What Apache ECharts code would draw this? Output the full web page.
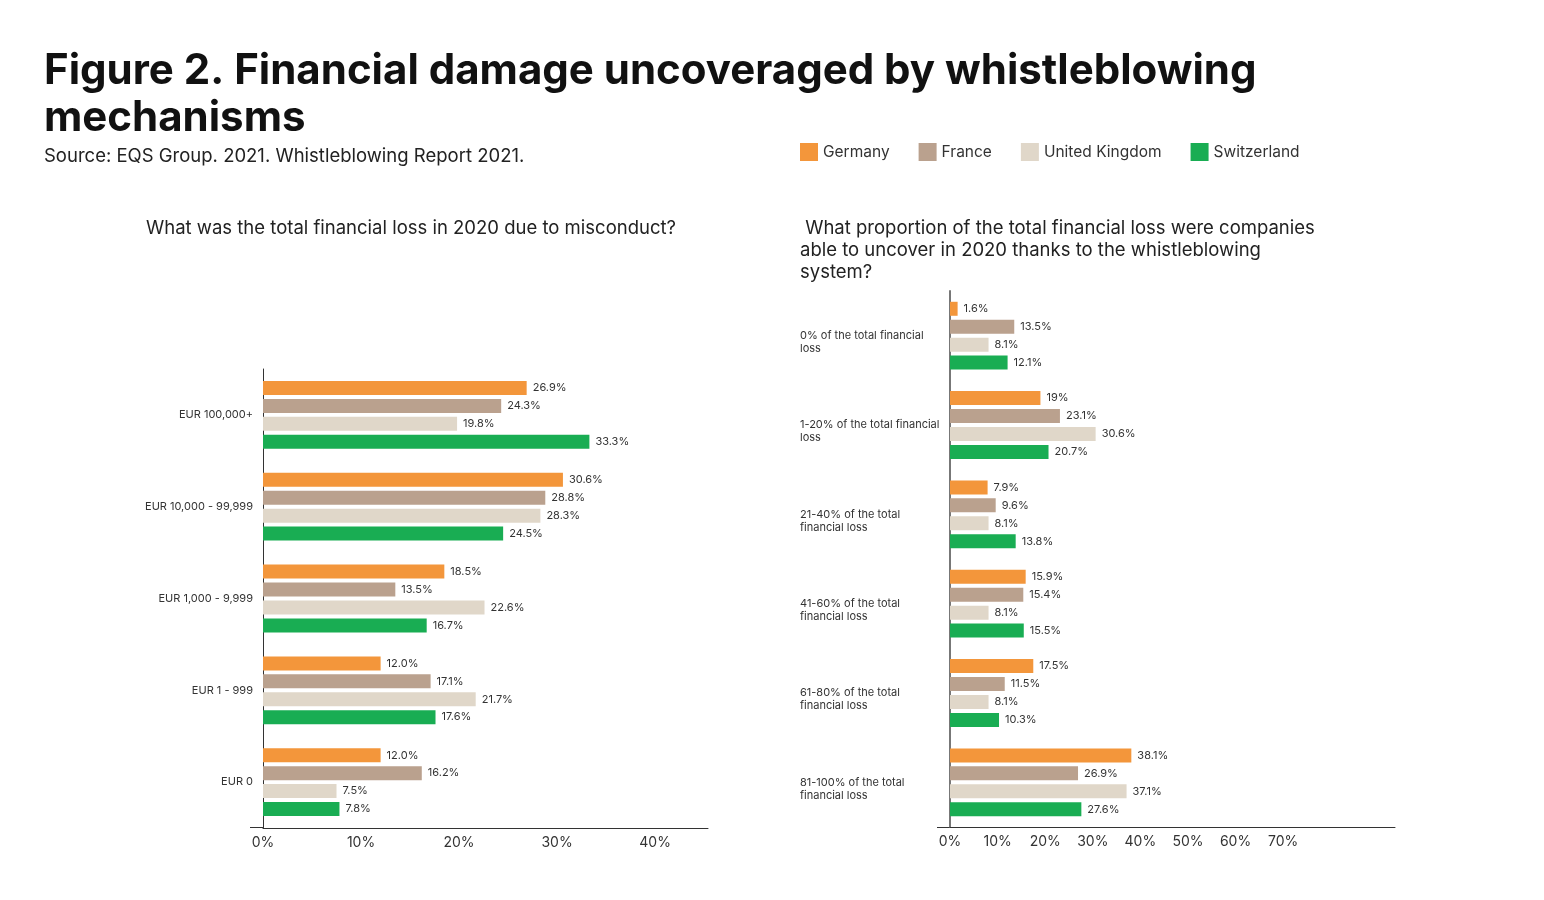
<!DOCTYPE html>
<html>
<head>
<meta charset="utf-8">
<title>Figure 2</title>
<script src="https://cdn.jsdelivr.net/npm/echarts@6/dist/echarts.min.js"></script>
<style>
  html, body { margin: 0; padding: 0; background: #fff; }
  #chart { width: 1544px; height: 900px; }
</style>
</head>
<body>
<div id="chart"></div>
<script>
// 国家（图例）
var countries = ['Germany', 'France', 'United Kingdom', 'Switzerland'];
var colors = ['#F3963B', '#BAA18E', '#E0D7C9', '#19AD53'];

// 左图：2020 年因不当行为造成的损失
var lossCats = ['EUR 100,000+', 'EUR 10,000 - 99,999', 'EUR 1,000 - 9,999', 'EUR 1 - 999', 'EUR 0'];
var lossGermany = [26.9, 30.6, 18.5, 12.0, 12.0];
var lossFrance = [24.3, 28.8, 13.5, 17.1, 16.2];
var lossUK = [19.8, 28.3, 22.6, 21.7, 7.5];
var lossSwitzerland = [33.3, 24.5, 16.7, 17.6, 7.8];

// 右图：通过举报系统发现的损失比例
var shareCats = [
  '0% of the total financial\nloss',
  '1-20% of the total financial\nloss',
  '21-40% of the total\nfinancial loss',
  '41-60% of the total\nfinancial loss',
  '61-80% of the total\nfinancial loss',
  '81-100% of the total\nfinancial loss'
];
var shareGermany = [1.6, 19, 7.9, 15.9, 17.5, 38.1];
var shareFrance = [13.5, 23.1, 9.6, 15.4, 11.5, 26.9];
var shareUK = [8.1, 30.6, 8.1, 8.1, 8.1, 37.1];
var shareSwitzerland = [12.1, 20.7, 13.8, 15.5, 10.3, 27.6];

var font = 'Inter, "Noto Sans", sans-serif';

function makeSeries(name, data, idx, gridIdx, fixed) {
  return {
    name: name,
    type: 'bar',
    xAxisIndex: gridIdx,
    yAxisIndex: gridIdx,
    data: data,
    barWidth: 14,
    barGap: '28%',
    itemStyle: { color: colors[idx] },
    label: {
      show: true,
      position: 'right',
      distance: 6,
      fontFamily: font,
      fontSize: 11,
      color: '#333',
      formatter: function (p) {
        return (fixed ? p.value.toFixed(1) : p.value) + '%';
      }
    }
  };
}

var series = [];
[lossGermany, lossFrance, lossUK, lossSwitzerland].forEach(function (d, i) {
  series.push(makeSeries(countries[i], d, i, 0, true));
});
[shareGermany, shareFrance, shareUK, shareSwitzerland].forEach(function (d, i) {
  series.push(makeSeries(countries[i], d, i, 1, false));
});

var chart = echarts.init(document.getElementById('chart'));
var option = {
  animation: false,
  textStyle: { fontFamily: font },
  title: [
    {
      text: 'Figure 2. Financial damage uncoveraged by whistleblowing\nmechanisms',
      left: 44, top: 48, padding: 0,
      textStyle: { fontFamily: font, fontWeight: 'bold', fontSize: 42, lineHeight: 47, color: '#111' }
    },
    {
      text: 'Source: EQS Group. 2021. Whistleblowing Report 2021.',
      left: 44, top: 147, padding: 0,
      textStyle: { fontFamily: font, fontWeight: 'normal', fontSize: 18.5, color: '#222' }
    },
    {
      text: 'What was the total financial loss in 2020 due to misconduct?',
      left: 146, top: 219, padding: 0,
      textStyle: { fontFamily: font, fontWeight: 'normal', fontSize: 18.5, color: '#222' }
    },
    {
      text: ' What proportion of the total financial loss were companies\nable to uncover in 2020 thanks to the whistleblowing\nsystem?',
      left: 800, top: 217, padding: 0,
      textStyle: { fontFamily: font, fontWeight: 'normal', fontSize: 18.5, lineHeight: 22, color: '#222' }
    }
  ],
  legend: {
    data: countries,
    left: 800, top: 143, padding: 0,
    itemWidth: 18, itemHeight: 18,
    itemGap: 29,
    icon: 'rect',
    textStyle: { fontFamily: font, fontSize: 15.5, color: '#333' }
  },
  grid: [
    { left: 263, top: 369, width: 445, height: 459 },
    { left: 950, top: 291, width: 445, height: 536 }
  ],
  xAxis: [
    {
      type: 'value', gridIndex: 0, min: 0, max: 45.4, interval: 10,
      splitLine: { show: false },
      axisLine: { show: true, lineStyle: { color: '#333', width: 1 } },
      axisTick: { show: false },
      axisLabel: {
        fontSize: 14, color: '#333', margin: 8, showMaxLabel: false,
        formatter: function (v) { return v > 40 ? '' : v + '%'; }
      }
    },
    {
      type: 'value', gridIndex: 1, min: 0, max: 93.5, interval: 10,
      splitLine: { show: false },
      axisLine: { show: true, lineStyle: { color: '#333', width: 1 } },
      axisTick: { show: false },
      axisLabel: {
        fontSize: 14, color: '#333', margin: 8, showMaxLabel: false,
        formatter: function (v) { return v > 70 ? '' : v + '%'; }
      }
    }
  ],
  yAxis: [
    {
      type: 'category', gridIndex: 0, data: lossCats, inverse: true,
      axisLine: { show: true, lineStyle: { color: '#333', width: 1 } },
      axisTick: { show: false },
      axisLabel: { fontSize: 11, color: '#333', margin: 10 }
    },
    {
      type: 'category', gridIndex: 1, data: shareCats, inverse: true,
      axisLine: { show: true, lineStyle: { color: '#777', width: 2 } },
      axisTick: { show: false },
      // 前面加一个空行，让两行文字略微下移
      axisLabel: {
        fontSize: 11, color: '#333', margin: 150, align: 'left', lineHeight: 13,
        formatter: function (v) { return '\n' + v; }
      }
    }
  ],
  // x 轴线在 y 轴左侧多出的一小段
  graphic: [
    { type: 'line', shape: { x1: 250, y1: 827.5, x2: 263, y2: 827.5 }, style: { stroke: '#333', lineWidth: 1 } },
    { type: 'line', shape: { x1: 937, y1: 827.5, x2: 950, y2: 827.5 }, style: { stroke: '#333', lineWidth: 1 } }
  ],
  series: series
};
chart.setOption(option);
</script>
</body>
</html>
